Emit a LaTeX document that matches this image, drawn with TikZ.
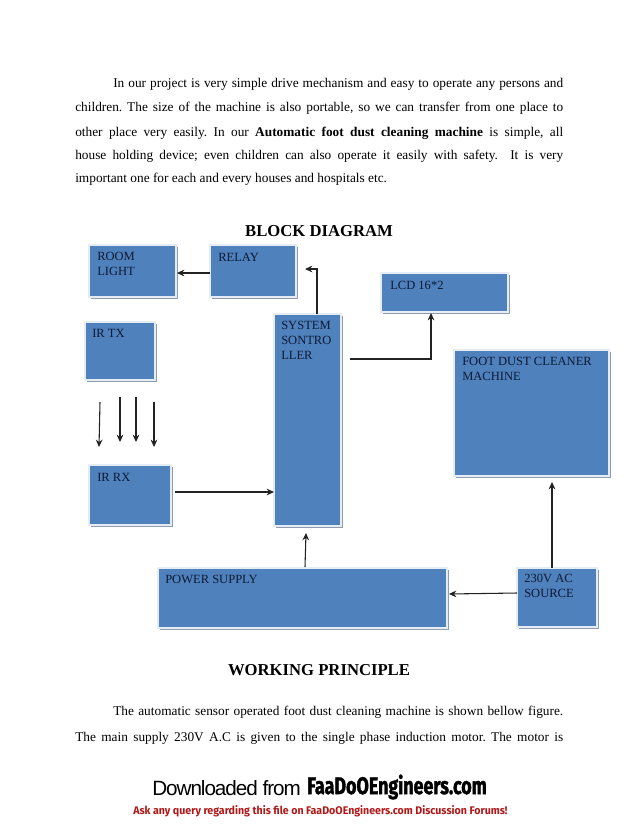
\documentclass[tikz,border=0pt]{standalone}
\usepackage{fontspec}
\setmainfont{Liberation Serif}
\newfontfamily\footsans{Liberation Sans}
\newfontfamily\footblack{Fira Sans}[FakeStretch=0.745,FakeBold=1.5,BoldFont=* Bold]
\newfontfamily\footred{Fira Sans}[FakeStretch=0.96,BoldFont=* Bold]
\usetikzlibrary{shadows,arrows.meta}
\definecolor{boxblue}{HTML}{4F81BD}
\definecolor{boxedge}{HTML}{E6ECF4}
\definecolor{boxshade}{HTML}{8E9BB0}
\definecolor{boxtext}{HTML}{0C1A33}
\definecolor{linkgray}{HTML}{222222}
\definecolor{footred}{HTML}{B01818}
\tikzset{
  x=0.75pt,y=-0.75pt,
  blockbox/.style={anchor=north west,inner sep=0pt,outer sep=0pt,fill=boxblue,draw=boxedge,line width=1.5pt,
    general shadow={fill=boxshade,shadow xshift=1.7pt,shadow yshift=-1.7pt}},
  blocklabel/.style={anchor=north west,inner sep=0pt,align=left,text=boxtext,font=\fontsize{9.4pt}{11.2pt}\selectfont},
  link/.style={draw=linkgray,line width=0.8pt,-{Stealth[length=5.5pt,width=5pt]}},
  bodyline/.style={anchor=west,inner sep=0pt,font=\fontsize{10pt}{12pt}\selectfont},
  headline/.style={anchor=center,inner sep=0pt,font=\fontsize{12.5pt}{14pt}\selectfont\bfseries}
}
\newcommand{\blockat}[6]{%
  \node[blockbox,minimum width=#4*0.75pt,minimum height=#5*0.75pt] (#1) at (#2,#3) {};
  #6}
\newcommand{\jline}[3]{\node[bodyline] (#1) at (75,#2) {\hbox to 366pt{#3}};}
\frenchspacing
\begin{document}
\begin{tikzpicture}
\useasboundingbox (0,0) rectangle (638,826);
\fill[white] (0,0) rectangle (638,826);
% body text
\node[bodyline] (p1) at (113,84) {\hbox to 337.5pt{In our project is very simple drive mechanism and easy to operate any persons and}};
\jline{p2}{108}{children. The size of the machine is also portable, so we can transfer from one place to}
\jline{p3}{133}{other place very easily. In our \textbf{Automatic foot dust cleaning machine} is simple, all}
\jline{p4}{156}{house holding device; even children can also operate it easily with safety.\ \ It is very}
\node[bodyline] (p5) at (75,179) {important one for each and every houses and hospitals etc.};
\node[headline] (h1) at (319,231) {BLOCK DIAGRAM};
% blocks
\blockat{room}{89}{245}{87}{52}{}
\blockat{relay}{210}{245}{86}{52}{}
\blockat{irtx}{85}{322}{70}{58}{}
\blockat{ctrl}{274}{314}{67}{212}{}
\blockat{lcd}{381}{273}{127}{39}{}
\blockat{foot}{454}{350}{155}{126}{}
\blockat{irrx}{89}{465}{82}{60}{}
\blockat{power}{158}{568}{289}{60}{}
\blockat{ac}{517}{568}{80}{59}{}
\node[blocklabel] (troom) at (97,252) {ROOM\\LIGHT};
\node[blocklabel] (trelay) at (218,253) {RELAY};
\node[blocklabel] (tirtx) at (92,329) {IR TX};
\node[blocklabel] (tctrl) at (281,321) {SYSTEM\\SONTRO\\LLER};
\node[blocklabel] (tlcd) at (390,281) {LCD 16*2};
\node[blocklabel] (tfoot) at (462,357) {FOOT DUST CLEANER\\MACHINE};
\node[blocklabel] (tirrx) at (97,473) {IR RX};
\node[blocklabel] (tpower) at (165,575) {POWER SUPPLY};
\node[blocklabel] (tac) at (524,574) {230V AC\\SOURCE};
% free ends
\coordinate (upcorner) at (317,269);
\coordinate (uptip) at (305,269);
\coordinate (ctrlout) at (350,359);
\coordinate (lcdcorner) at (431,359);
\coordinate (lcdtip) at (431,313);
\coordinate (a1s) at (100,402); \coordinate (a1e) at (99,447);
\coordinate (a2s) at (120,397); \coordinate (a2e) at (120,442);
\coordinate (a3s) at (136,397); \coordinate (a3e) at (136,442);
\coordinate (a4s) at (154,402); \coordinate (a4e) at (154,447);
% connectors
\draw[link] (relay.west |- 0,273) -- (177,273);
\draw[link] (317,314) -- (upcorner) -- (uptip);
\draw[link] (ctrlout) -- (lcdcorner) -- (lcdtip);
\draw[link] (a1s) -- (a1e);
\draw[link] (a2s) -- (a2e);
\draw[link] (a3s) -- (a3e);
\draw[link] (a4s) -- (a4e);
\draw[link] (irrx.east |- 0,492) ++(4,0) -- (ctrl.west |- 0,492);
\draw[link] (305,567) -- (306,533);
\draw[link] (ac.west |- 0,593) -- (449,594);
\draw[link] (552,568) -- (552,482);
% lower text
\node[headline] (h2) at (319,670) {WORKING PRINCIPLE};
\node[bodyline] (p6) at (113,712) {\hbox to 337.5pt{The automatic sensor operated foot dust cleaning machine is shown bellow figure.}};
\jline{p7}{738}{The main supply 230V A.C is given to the single phase induction motor. The motor is}
% footer
\node[anchor=west,inner sep=0pt,font=\footsans\fontsize{15.5pt}{18pt}\selectfont] (f1) at (152,788) {\addfontfeature{LetterSpace=-5}Downloaded from};
\node[anchor=west,inner sep=0pt,font=\footblack\bfseries\fontsize{18pt}{20pt}\selectfont] (f2) at (307,787) {FaaDoOEngineers.com};
\node[anchor=west,inner sep=0pt,text=footred,font=\footred\bfseries\fontsize{8.3pt}{10pt}\selectfont] (f3) at (133,811) {Ask any query regarding this file on FaaDoOEngineers.com Discussion Forums!};
\end{tikzpicture}
\end{document}
